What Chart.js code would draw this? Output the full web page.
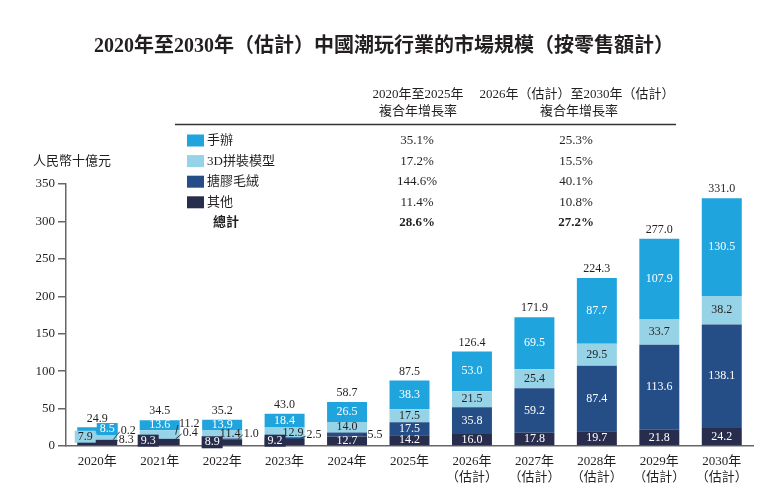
<!DOCTYPE html>
<html>
<head>
<meta charset="utf-8">
<script src="https://cdn.jsdelivr.net/npm/chart.js@4.4.0/dist/chart.umd.min.js"></script>
<style>
  html, body { margin: 0; padding: 0; background: #fff; }
  #wrap { width: 767px; height: 503px; }
</style>
</head>
<body>
<div id="wrap"><canvas id="chart" width="767" height="503"></canvas></div>
<script>
// market size, RMB bn, stacked bottom -> top
var years = ['2020年', '2021年', '2022年', '2023年', '2024年', '2025年',
    ['2026年', '（估計）'], ['2027年', '（估計）'], ['2028年', '（估計）'],
    ['2029年', '（估計）'], ['2030年', '（估計）']];
var others  = [8.3, 9.3, 8.9, 9.2, 12.7, 14.2, 16.0, 17.8, 19.7, 21.8, 24.2];
var plush   = [0.2, 0.4, 1.0, 2.5, 5.5, 17.5, 35.8, 59.2, 87.4, 113.6, 138.1];
var models  = [7.9, 11.2, 11.4, 12.9, 14.0, 17.5, 21.5, 25.4, 29.5, 33.7, 38.2];
var figures = [8.5, 13.6, 13.9, 18.4, 26.5, 38.3, 53.0, 69.5, 87.7, 107.9, 130.5];
var totals  = [24.9, 34.5, 35.2, 43.0, 58.7, 87.5, 126.4, 171.9, 224.3, 277.0, 331.0];

// CAGR table (legend order)
var legendNames = ['手辦', '3D拼裝模型', '搪膠毛絨', '其他'];
var cagrA = ['35.1%', '17.2%', '144.6%', '11.4%'];
var cagrB = ['25.3%', '15.5%', '40.1%', '10.8%'];
var totalCagrA = '28.6%';
var totalCagrB = '27.2%';

var yTicks = [0, 50, 100, 150, 200, 250, 300, 350];

const FONT = '"Liberation Serif", "Noto Sans CJK TC", serif';
const TXT = '#231f20';
const C_FIG = '#1fa4dd';
const C_3D = '#96d3e6';
const C_PLUSH = '#254d86';
const C_OTHER = '#282c4d';

// tweaks for the cramped small bars: key = datasetIndex-dataIndex
const labelTweaks = {
    '2-0': {dx: -12, dy: 0, box: true},
    '3-0': {dx: 10, dy: -1.5, box: true},
    '1-0': {dx: 31, dy: -9, out: true},
    '0-0': {dx: 29, dy: -3, out: true},
    '0-1': {dx: -11.5, dy: -1.5, box: true},
    '2-1': {dx: 29.5, dy: -10.5, out: true},
    '1-1': {dx: 30.5, dy: -6, out: true},
    '0-2': {dx: -10, dy: 0, box: true},
    '2-2': {dx: 8, dy: 0},
    '1-2': {dx: 29, dy: -5, out: true},
    '0-3': {dx: -9.5, dy: -1.5, box: true},
    '2-3': {dx: 8.5, dy: 0},
    '1-3': {dx: 29.5, dy: -3, out: true},
    '1-4': {dx: 28, dy: 0, out: true}
};

const valueLabels = {
    id: 'valueLabels',
    afterDatasetsDraw(chart) {
        const ctx = chart.ctx;
        ctx.save();
        ctx.font = '12px ' + FONT;
        ctx.textAlign = 'center';
        ctx.textBaseline = 'middle';
        chart.data.datasets.forEach(function (ds, di) {
            const meta = chart.getDatasetMeta(di);
            meta.data.forEach(function (bar, i) {
                const t = labelTweaks[di + '-' + i] || {dx: 0, dy: 0};
                const txt = ds.data[i].toFixed(1);
                const segY = (bar.y + bar.base) / 2;
                const x = bar.x + t.dx;
                const y = segY + t.dy;
                const w = ctx.measureText(txt).width;
                if (t.out) {
                    ctx.strokeStyle = '#333';
                    ctx.lineWidth = 1;
                    ctx.beginPath();
                    ctx.moveTo(bar.x + bar.width / 2 - 4, segY);
                    ctx.lineTo(x - w / 2 - 1, y + 1);
                    ctx.stroke();
                    ctx.fillStyle = TXT;
                } else {
                    if (t.box) {
                        ctx.fillStyle = ds.backgroundColor;
                        ctx.fillRect(x - w / 2 - 3, y - 6, w + 6, 12);
                    }
                    ctx.fillStyle = ds.labelColor;
                }
                ctx.fillText(txt, x, y);
            });
        });
        // totals on top
        const top = chart.getDatasetMeta(chart.data.datasets.length - 1);
        ctx.fillStyle = TXT;
        top.data.forEach(function (bar, i) {
            ctx.fillText(totals[i].toFixed(1), bar.x, bar.y - 9);
        });
        ctx.restore();
    }
};

const tableAndTitle = {
    id: 'tableAndTitle',
    afterDraw(chart) {
        const ctx = chart.ctx;
        ctx.save();
        ctx.fillStyle = TXT;
        ctx.textBaseline = 'middle';

        ctx.font = 'bold 20px ' + FONT;
        ctx.textAlign = 'center';
        ctx.fillText('2020年至2030年（估計）中國潮玩行業的市場規模（按零售額計）', 384, 47);

        ctx.font = '13px ' + FONT;
        ctx.textAlign = 'left';
        ctx.fillText('人民幣十億元', 33, 162);

        ctx.textAlign = 'center';
        ctx.fillText('2020年至2025年', 418, 95);
        ctx.fillText('複合年增長率', 418, 112);
        ctx.fillText('2026年（估計）至2030年（估計）', 577, 95);
        ctx.fillText('複合年增長率', 579, 112);

        ctx.strokeStyle = '#333';
        ctx.lineWidth = 1.5;
        ctx.beginPath();
        ctx.moveTo(175, 124.5);
        ctx.lineTo(676, 124.5);
        ctx.stroke();

        const sw = [C_FIG, C_3D, C_PLUSH, C_OTHER];
        for (let r = 0; r < 4; r++) {
            const y = 140.5 + r * 20.6;
            ctx.fillStyle = sw[r];
            ctx.fillRect(187, y - 6, 17, 12);
            ctx.fillStyle = TXT;
            ctx.textAlign = 'left';
            ctx.fillText(legendNames[r], 207, y);
            ctx.textAlign = 'center';
            ctx.fillText(cagrA[r], 417, y);
            ctx.fillText(cagrB[r], 576, y);
        }
        const ty = 140.5 + 4 * 20.6;
        ctx.font = 'bold 13px ' + FONT;
        ctx.textAlign = 'left';
        ctx.fillText('總計', 213, ty);
        ctx.textAlign = 'center';
        ctx.fillText(totalCagrA, 417, ty);
        ctx.fillText(totalCagrB, 576, ty);
        ctx.restore();
    }
};

const ctx = document.getElementById('chart').getContext('2d');
const marketChart = new Chart(ctx, {
    type: 'bar',
    data: {
        labels: years,
        datasets: [
            {label: '其他', data: others, backgroundColor: C_OTHER, labelColor: '#fff'},
            {label: '搪膠毛絨', data: plush, backgroundColor: C_PLUSH, labelColor: '#fff'},
            {label: '3D拼裝模型', data: models, backgroundColor: C_3D, labelColor: TXT},
            {label: '手辦', data: figures, backgroundColor: C_FIG, labelColor: '#fff'}
        ]
    },
    options: {
        responsive: false,
        animation: false,
        layout: {padding: {top: 184, right: 14, left: 0, bottom: 0}},
        datasets: {bar: {categoryPercentage: 0.64, barPercentage: 1}},
        plugins: {legend: {display: false}, tooltip: {enabled: false}},
        scales: {
            x: {
                stacked: true,
                grid: {display: false, drawTicks: false},
                border: {display: true, color: '#666', width: 1.5},
                ticks: {font: {family: FONT, size: 13}, color: TXT, padding: 8, maxRotation: 0, autoSkip: false},
                afterFit: function (s) { s.height = 57; }
            },
            y: {
                stacked: true,
                min: 0,
                max: 350,
                afterBuildTicks: function (s) { s.ticks = yTicks.map(function (v) { return {value: v}; }); },
                grid: {drawOnChartArea: false, drawTicks: true, tickLength: 8, color: '#666', lineWidth: 1.5},
                border: {display: true, color: '#666', width: 1.5},
                ticks: {font: {family: FONT, size: 13}, color: TXT, padding: 3},
                afterFit: function (s) { s.width = 66; }
            }
        }
    },
    plugins: [valueLabels, tableAndTitle]
});
</script>
</body>
</html>
